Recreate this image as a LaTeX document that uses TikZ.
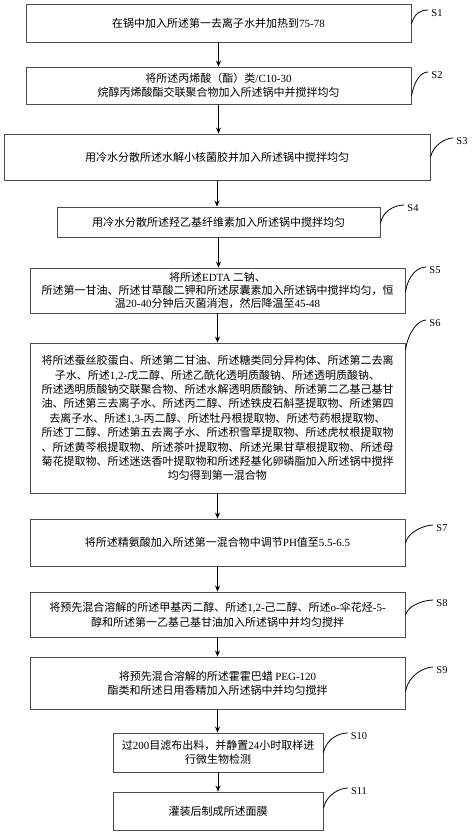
\documentclass[tikz,border=0pt]{standalone}
\usepackage{fontspec}
\setmainfont{Noto Sans CJK SC}
\newfontfamily\lat{Liberation Serif}
\newcommand{\la}[1]{{\lat #1}}
\usetikzlibrary{arrows.meta}
\begin{document}
\begin{tikzpicture}[x=1pt,y=-1pt,
  box/.style={draw=black!70, line width=0.9pt, fill=white, align=center, inner sep=0pt, font=\fontsize{11}{14.5}\selectfont},
  flow/.style={-{Stealth[length=6pt,width=5pt]}, line width=0.8pt},
  tag/.style={font=\lat\fontsize{10.5}{12}\selectfont, inner sep=0pt},
  lead/.style={line width=0.8pt}]
\useasboundingbox[fill=white] (0,0) rectangle (474,835);

\node[box, minimum width=385pt, minimum height=38pt] (s1) at (218.5,23) {在锅中加入所述第一去离子水并加热到\la{75-78}};
\node[box, minimum width=385pt, minimum height=37pt, font=\fontsize{11}{14}\selectfont] (s2) at (218.5,85.5) {将所述丙烯酸（酯）类\la{/C10-30}\\烷醇丙烯酸酯交联聚合物加入所述锅中并搅拌均匀};
\node[box, minimum width=426pt, minimum height=46pt] (s3) at (217,157) {用冷水分散所述水解小核菌胶并加入所述锅中搅拌均匀};
\node[box, minimum width=323pt, minimum height=30pt] (s4) at (218.5,222) {用冷水分散所述羟乙基纤维素加入所述锅中搅拌均匀};
\node[box, minimum width=375pt, minimum height=45pt, font=\fontsize{11}{12.8}\selectfont] (s5) at (217.5,290.5) {将所述\la{EDTA} 二钠、\\所述第一甘油、所述甘草酸二钾和所述尿囊素加入所述锅中搅拌均匀，恒\\温\la{20-40}分钟后灭菌消泡，然后降温至\la{45-48}};
\node[box, minimum width=375pt, minimum height=150pt, font=\fontsize{11}{14.4}\selectfont] (s6) at (217.5,418) {将所述蚕丝胶蛋白、所述第二甘油、所述糖类同分异构体、所述第二去离\\子水、所述\la{1,2-}戊二醇、所述乙酰化透明质酸钠、所述透明质酸钠、\\所述透明质酸钠交联聚合物、所述水解透明质酸钠、所述第二乙基己基甘\\油、所述第三去离子水、所述丙二醇、所述铁皮石斛茎提取物、所述第四\\去离子水、所述\la{1,3-}丙二醇、所述牡丹根提取物、所述芍药根提取物、\\所述丁二醇、所述第五去离子水、所述积雪草提取物、所述虎杖根提取物\\、所述黄芩根提取物、所述茶叶提取物、所述光果甘草根提取物、所述母\\菊花提取物、所述迷迭香叶提取物和所述羟基化卵磷脂加入所述锅中搅拌\\均匀得到第一混合物};
\node[box, minimum width=375pt, minimum height=47pt] (s7) at (217.5,542.5) {将所述精氨酸加入所述第一混合物中调节\la{PH}值至\la{5.5-6.5}};
\node[box, minimum width=375pt, minimum height=45pt, font=\fontsize{11}{15}\selectfont] (s8) at (217.5,614.5) {将预先混合溶解的所述甲基丙二醇、所述\la{1,2-}己二醇、所述\la{o-}伞花烃\la{-5-}\\醇和所述第一乙基己基甘油加入所述锅中并均匀搅拌};
\node[box, minimum width=375pt, minimum height=52pt, font=\fontsize{11}{14}\selectfont] (s9) at (217.5,683) {将预先混合溶解的所述霍霍巴蜡 \la{PEG-120}\\酯类和所述日用香精加入所述锅中并均匀搅拌};
\node[box, minimum width=210pt, minimum height=39pt, font=\fontsize{11}{14}\selectfont] (s10) at (218,752.5) {过\la{200}目滤布出料，并静置\la{24}小时取样进\\行微生物检测};
\node[box, minimum width=210pt, minimum height=38pt] (s11) at (218,811) {灌装后制成所述面膜};

\foreach \a/\b in {s1/s2,s2/s3,s3/s4,s4/s5,s5/s6,s6/s7,s7/s8,s8/s9,s9/s10,s10/s11}
  \draw[flow] (\a.south) -- (\a.south |- \b.north);

% step labels
\node[tag] (l1) at (437,13) {S1};
\node[tag] (l2) at (437,75) {S2};
\node[tag] (l3) at (462,141) {S3};
\node[tag] (l4) at (413,208) {S4};
\node[tag] (l5) at (435,270) {S5};
\node[tag] (l6) at (435,323) {S6};
\node[tag] (l7) at (442,528) {S7};
\node[tag] (l8) at (442,603) {S8};
\node[tag] (l9) at (442,670) {S9};
\node[tag] (l10) at (359,736) {S10};
\node[tag] (l11) at (359,791) {S11};

\foreach \s/\y/\dy in {1/24/14, 2/96/20, 3/157/16, 4/223/18, 5/292/24, 6/350/25, 7/543/16, 8/615/14, 9/692/24, 10/753/20, 11/808/18}
  \draw[lead] (s\s.east |- 0,\y) .. controls +(3,-0.75*\dy) and +(-8,0) .. ([xshift=-3pt,yshift=3pt]l\s.west);
\end{tikzpicture}
\end{document}
